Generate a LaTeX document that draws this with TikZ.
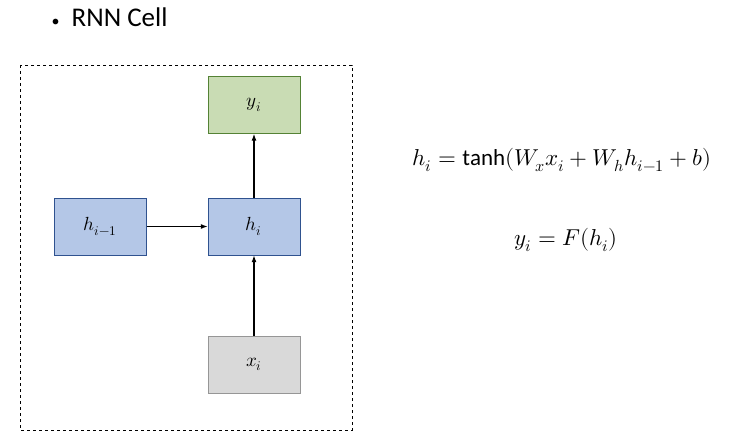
\documentclass[tikz,border=0pt]{standalone}
\usetikzlibrary{arrows.meta}
\usepackage{fontspec}
\usepackage{unicode-math}
\setmainfont{Carlito}
\setmathfont{Latin Modern Math}
\begin{document}
\begin{tikzpicture}[x=1pt,y=-1pt,
  box/.style={draw,minimum width=92pt,minimum height=57pt,inner sep=0pt,font=\fontsize{19}{22}\selectfont},
  blue/.style={box,fill={rgb,255:red,180;green,199;blue,231},draw={rgb,255:red,47;green,82;blue,143}},
  arr/.style={-{Latex[length=7pt,width=5pt]},line width=1.3pt}]
\useasboundingbox (0,0) rectangle (744,438);
\node[anchor=west,font=\fontsize{27}{30}\selectfont] (t) at (48,17) {{\fontsize{16}{16}\selectfont\textbullet}\ \ RNN Cell};
\draw[dashed,thick] (20,65) rectangle (352,430);
\node[box,fill={rgb,255:red,201;green,220;blue,180},draw={rgb,255:red,84;green,130;blue,53}] (y) at (254,105) {$y_i$};
\node[blue] (hp) at (100.5,226.5) {$h_{i-1}$};
\node[blue] (h) at (254,226.5) {$h_i$};
\node[box,fill={rgb,255:red,217;green,217;blue,217},draw={rgb,255:red,150;green,150;blue,150}] (x) at (254,364.5) {$x_i$};
\draw[arr] (hp) -- (h);
\draw[arr] (h) -- (y);
\draw[arr] (x) -- (h);
\node[font=\fontsize{23}{27}\selectfont] (e1) at (562,160) {$h_i=\mathrm{tanh}(W_x x_i+W_h h_{i-1}+b)$};
\node[font=\fontsize{23}{27}\selectfont] (e2) at (566,240) {$y_i=F(h_i)$};
\end{tikzpicture}
\end{document}
